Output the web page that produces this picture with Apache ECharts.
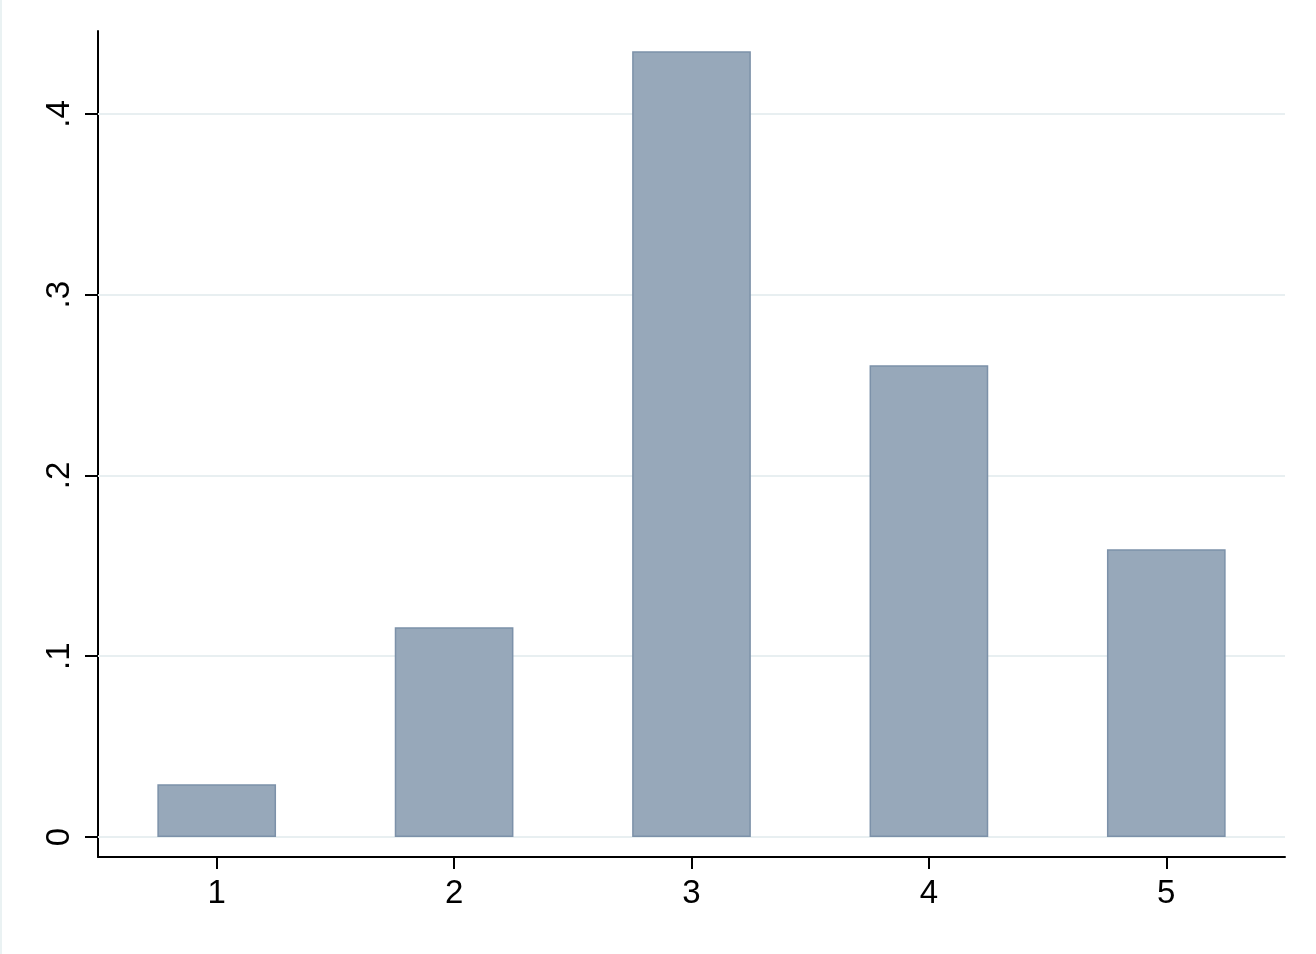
<!DOCTYPE html>
<html>
<head>
<meta charset="utf-8">
<script src="https://cdn.jsdelivr.net/npm/echarts@6/dist/echarts.min.js"></script>
<style>
html,body{margin:0;padding:0;background:#fff;}
#wrap{position:relative;width:1316px;height:954px;}
#chart{width:1316px;height:954px;}
#edge{position:absolute;left:0;top:0;width:2px;height:954px;background:#EAF2F3;}
</style>
</head>
<body>
<div id="wrap"><div id="chart"></div><div id="edge"></div></div>
<script>
const categories = ['1', '2', '3', '4', '5'];
const values = [0.0292, 0.1160, 0.4347, 0.2610, 0.1592];
const yTickValues = [0, 0.1, 0.2, 0.3, 0.4];
const yTickLabels = ['0', '.1', '.2', '.3', '.4'];

const chart = echarts.init(document.getElementById('chart'), null, {renderer: 'canvas'});
const font = 'Liberation Sans, Helvetica, Arial, sans-serif';
chart.setOption({
  animation: false,
  backgroundColor: '#ffffff',
  grid: {left: 98, right: 31, top: 31, bottom: 97, containLabel: false},
  xAxis: {
    type: 'category',
    data: categories,
    boundaryGap: true,
    axisLine: {show: true, onZero: false, lineStyle: {color: '#000', width: 2}},
    axisTick: {show: true, alignWithLabel: true, length: 12, lineStyle: {color: '#000', width: 2}},
    axisLabel: {color: '#000', fontSize: 33, fontFamily: font, margin: 20},
    splitLine: {show: false}
  },
  yAxis: {
    type: 'value',
    min: -0.01107,
    max: 0.4459,
    axisLine: {show: true, lineStyle: {color: '#000', width: 2}},
    axisTick: {show: true, length: 13, customValues: yTickValues, lineStyle: {color: '#000', width: 2}},
    axisLabel: {
      color: '#000', fontSize: 33, fontFamily: font, rotate: 90, margin: 22,
      customValues: yTickValues,
      formatter: function (v) {
        for (let i = 0; i < yTickValues.length; i++) {
          if (Math.abs(yTickValues[i] - v) < 1e-9) return yTickLabels[i];
        }
        return '';
      }
    },
    splitLine: {show: false}
  },
  series: [{
    type: 'bar',
    data: values,
    barWidth: '50%',
    z: 3,
    itemStyle: {color: '#97A8BA', borderColor: '#7C91A9', borderWidth: 1.5},
    markLine: {
      silent: true,
      symbol: 'none',
      z: 1,
      label: {show: false},
      lineStyle: {color: '#E8EFF1', width: 2, type: 'solid'},
      data: yTickValues.map(v => ({yAxis: v}))
    }
  }]
});
</script>
</body>
</html>
